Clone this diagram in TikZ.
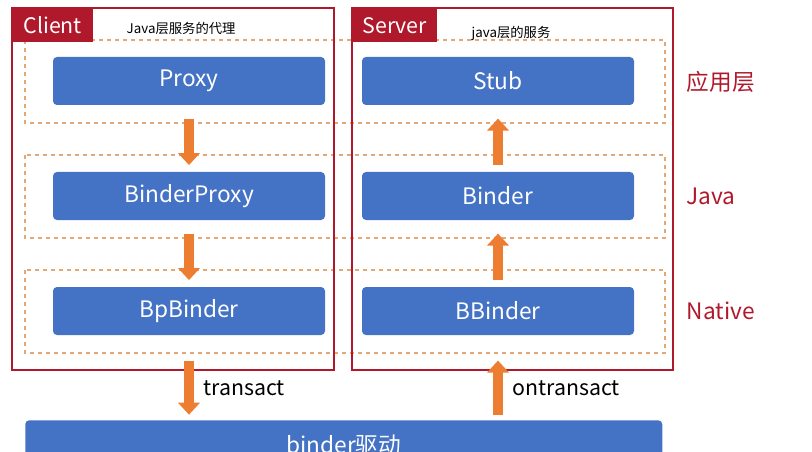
\documentclass[tikz,border=0pt]{standalone}
\usepackage{fontspec}
\setmainfont{Noto Sans CJK SC}
\usetikzlibrary{positioning, arrows.meta}
\definecolor{frameRed}{HTML}{B0192B}
\definecolor{boxBlue}{HTML}{4472C4}
\definecolor{arrOrange}{HTML}{ED7D31}
\definecolor{dashOrange}{HTML}{E3A878}
\tikzset{
  comp/.style = {rectangle, rounded corners=3pt, fill=boxBlue, text=white,
    minimum width=272*0.75pt, minimum height=48*0.75pt, font=\fontsize{17}{20}\selectfont},
  layer/.style = {draw=dashOrange, dashed, line width=0.8pt},
  frame/.style = {draw=frameRed, line width=1.5pt},
  tag/.style = {fill=frameRed, text=white, inner sep=0pt, font=\fontsize{16}{18}\selectfont},
  side/.style = {text=frameRed, font=\fontsize{17}{20}\selectfont, anchor=west},
  Flow/.style = {draw=arrOrange, line width=7pt, -{Triangle[width=16pt,length=9pt]}},
  lbl/.style = {font=\fontsize{16}{18}\selectfont, anchor=west}
}
\begin{document}
\begin{tikzpicture}[x=0.75pt, y=-0.75pt]
  \useasboundingbox (0,0) rectangle (812,452);
  \clip (0,0) rectangle (812,452);

  % layers
  \draw[layer] (25,40) rectangle (665,123);
  \draw[layer] (25,155) rectangle (665,238);
  \draw[layer] (25,270) rectangle (665,353);

  % frames
  \draw[frame] (12,8) rectangle (334,370);
  \draw[frame] (352,8) rectangle (673,370);
  \node[tag, minimum width=81*0.75pt, minimum height=34*0.75pt, anchor=north west] (client) at (12,8) {Client};
  \node[tag, minimum width=85*0.75pt, minimum height=34*0.75pt, anchor=north west] (server) at (352,8) {Server};
  \node[anchor=west, font=\fontsize{10}{12}\selectfont] (cnote) at (122,28) {Java层服务的代理};
  \node[anchor=west, font=\fontsize{10}{12}\selectfont] (snote) at (467,33) {java层的服务};

  % components
  \node[comp] (proxy) at (189,81) {Proxy};
  \node[comp] (bproxy) at (189,196) {BinderProxy};
  \node[comp] (bp) at (189,311) {BpBinder};
  \node[comp] (stub) at (498,81) {Stub};
  \node[comp] (binder) at (498,196) {Binder};
  \node[comp] (bb) at (498,311) {BBinder};
  \node[comp, minimum width=637*0.75pt, minimum height=50*0.75pt, anchor=north west] (drv) at (25,420) {\raisebox{-6pt}{binder驱动}};

  % layer names
  \node[side] (app) at (682,82) {应用层};
  \node[side] (java) at (682,196) {Java};
  \node[side] (native) at (682,311) {Native};

  % calls
  \draw[Flow, shorten <=10pt, shorten >=5pt] (proxy.south) -- (bproxy.north);
  \draw[Flow, shorten <=10pt, shorten >=5pt] (bproxy.south) -- (bp.north);
  \draw[Flow, shorten <=19pt, shorten >=4pt] (bp.south) -- (drv.north -| bp.south) node[lbl, midway, right=4pt, yshift=-8pt] {transact};
  \draw[Flow, shorten <=5pt, shorten >=10pt] (binder.north) -- (stub.south);
  \draw[Flow, shorten <=5pt, shorten >=10pt] (bb.north) -- (binder.south);
  \draw[Flow, shorten <=4pt, shorten >=19pt] (drv.north -| bb.south) -- (bb.south) node[lbl, midway, right=4pt, yshift=-8pt] {ontransact};
\end{tikzpicture}
\end{document}
